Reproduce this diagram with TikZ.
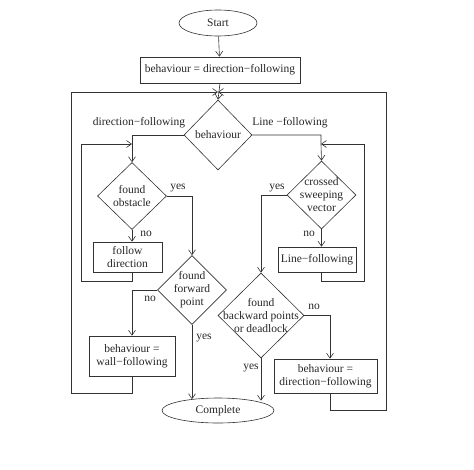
\documentclass[tikz,border=0pt]{standalone}
\usepackage{fontspec}
\setmainfont{Liberation Serif}
\usetikzlibrary{shapes.geometric,arrows.meta}
\begin{document}
\begin{tikzpicture}[x=1pt,y=-1pt,
  font=\fontsize{11.5}{13}\selectfont,
  every node/.style={text=black!85},
  ln/.style={draw=black!80,line width=0.6pt},
  arr/.style={ln,-{Straight Barb[length=5pt,width=7pt]}},
  boxn/.style={draw=black!80,line width=0.6pt,rectangle,inner sep=0pt,align=center},
  ellip/.style={draw=black!80,line width=0.6pt,ellipse,inner sep=0pt},
  dia/.style={draw=black!80,line width=0.6pt,diamond,inner sep=0pt},
  txt/.style={align=center,inner sep=0pt}]
\useasboundingbox (0,0) rectangle (474,469);
% nodes
\node[ellip,minimum width=78pt,minimum height=26pt] (start) at (218,23) {Start};
\node[boxn,minimum width=160pt,minimum height=26pt] (box1) at (220,70) {behaviour = direction−following};
\node[dia,minimum width=68pt,minimum height=70pt] (beh) at (218,135) {};
\node[txt] (behT) at (beh.center) {behaviour};
\node[dia,minimum width=69pt,minimum height=67pt] (obs) at (132,196) {};
\node[txt] (obsT) at (obs.center) {found\\obstacle};
\node[boxn,minimum width=69pt,minimum height=30pt] (fd) at (127.5,257) {follow\\direction};
\node[dia,minimum width=69pt,minimum height=69pt] (ffp) at (192,290) {};
\node[txt] (ffpT) at (ffp.center) {found\\forward\\point};
\node[boxn,minimum width=86pt,minimum height=40pt] (wf) at (132,356) {behaviour =\\wall−following};
\node[dia,minimum width=69pt,minimum height=68pt] (cross) at (321.5,195) {};
\node[txt] (crossT) at (cross.center) {crossed\\sweeping\\vector};
\node[boxn,minimum width=78pt,minimum height=25pt] (lf) at (317,259.5) {Line−following};
\node[dia,minimum width=86pt,minimum height=85pt] (fbp) at (261,315.5) {};
\node[txt] (fbpT) at (fbp.center) {found\\backward points\\or deadlock};
\node[boxn,minimum width=103pt,minimum height=34pt] (dfb) at (325.5,376) {behaviour =\\direction−following};
\node[ellip,minimum width=112pt,minimum height=25pt] (comp) at (218,410.5) {Complete};
% labels
\node[txt] (l1) at (139,123) {direction−following};
\node[txt] (l2) at (290,123) {Line −following};
\node[txt] (l3) at (178,188) {yes};
\node[txt] (l4) at (146,234) {no};
\node[txt] (l5) at (277,188) {yes};
\node[txt] (l6) at (309,234) {no};
\node[txt] (l7) at (150,299) {no};
\node[txt] (l8) at (204,338) {yes};
\node[txt] (l9) at (314,307) {no};
\node[txt] (l10) at (251,368) {yes};
% junction coordinates
\coordinate (jtop) at (218,92);
\coordinate (jl) at (132,144);
\coordinate (jr) at (321,144);
% connectors
\draw[arr] (start) -- (box1);
\draw[arr] (box1.south) -- (beh.north);
\draw[arr] (beh.west) -| (obs.north);
\draw[arr] (beh.east) -| (jr) -- (cross.north);
\draw[arr] (obs.east) -| (ffp.north);
\draw[arr] (obs.south) -- (obs.south |- fd.north);
\draw[arr] (obs.south |- fd.south) -- ++(0,9) -| (81,144) -- (jl);
\draw[arr] (cross.south) -- (cross.south |- lf.north);
\draw[arr] (cross.south |- lf.south) -- ++(0,9) -| (364,144) -- (jr);
\draw[arr] (cross.west) -| (fbp.north);
\draw[arr] (ffp.west) -| (wf.north);
\draw[arr] (ffp.south) -- ([yshift=-1.5pt]ffp.south |- comp.north);
\draw[arr] (fbp.south) -- ([yshift=-3pt]fbp.south |- comp.north);
\draw[arr] (fbp.east) -| ([xshift=4.5pt]dfb.north);
\draw[arr] (wf.south) -- ++(0,17) -| (71,92) -- (jtop);
\draw[arr] ([xshift=4.5pt]dfb.south) -- ++(0,17) -| (386,92) -- (jtop);
\end{tikzpicture}
\end{document}
